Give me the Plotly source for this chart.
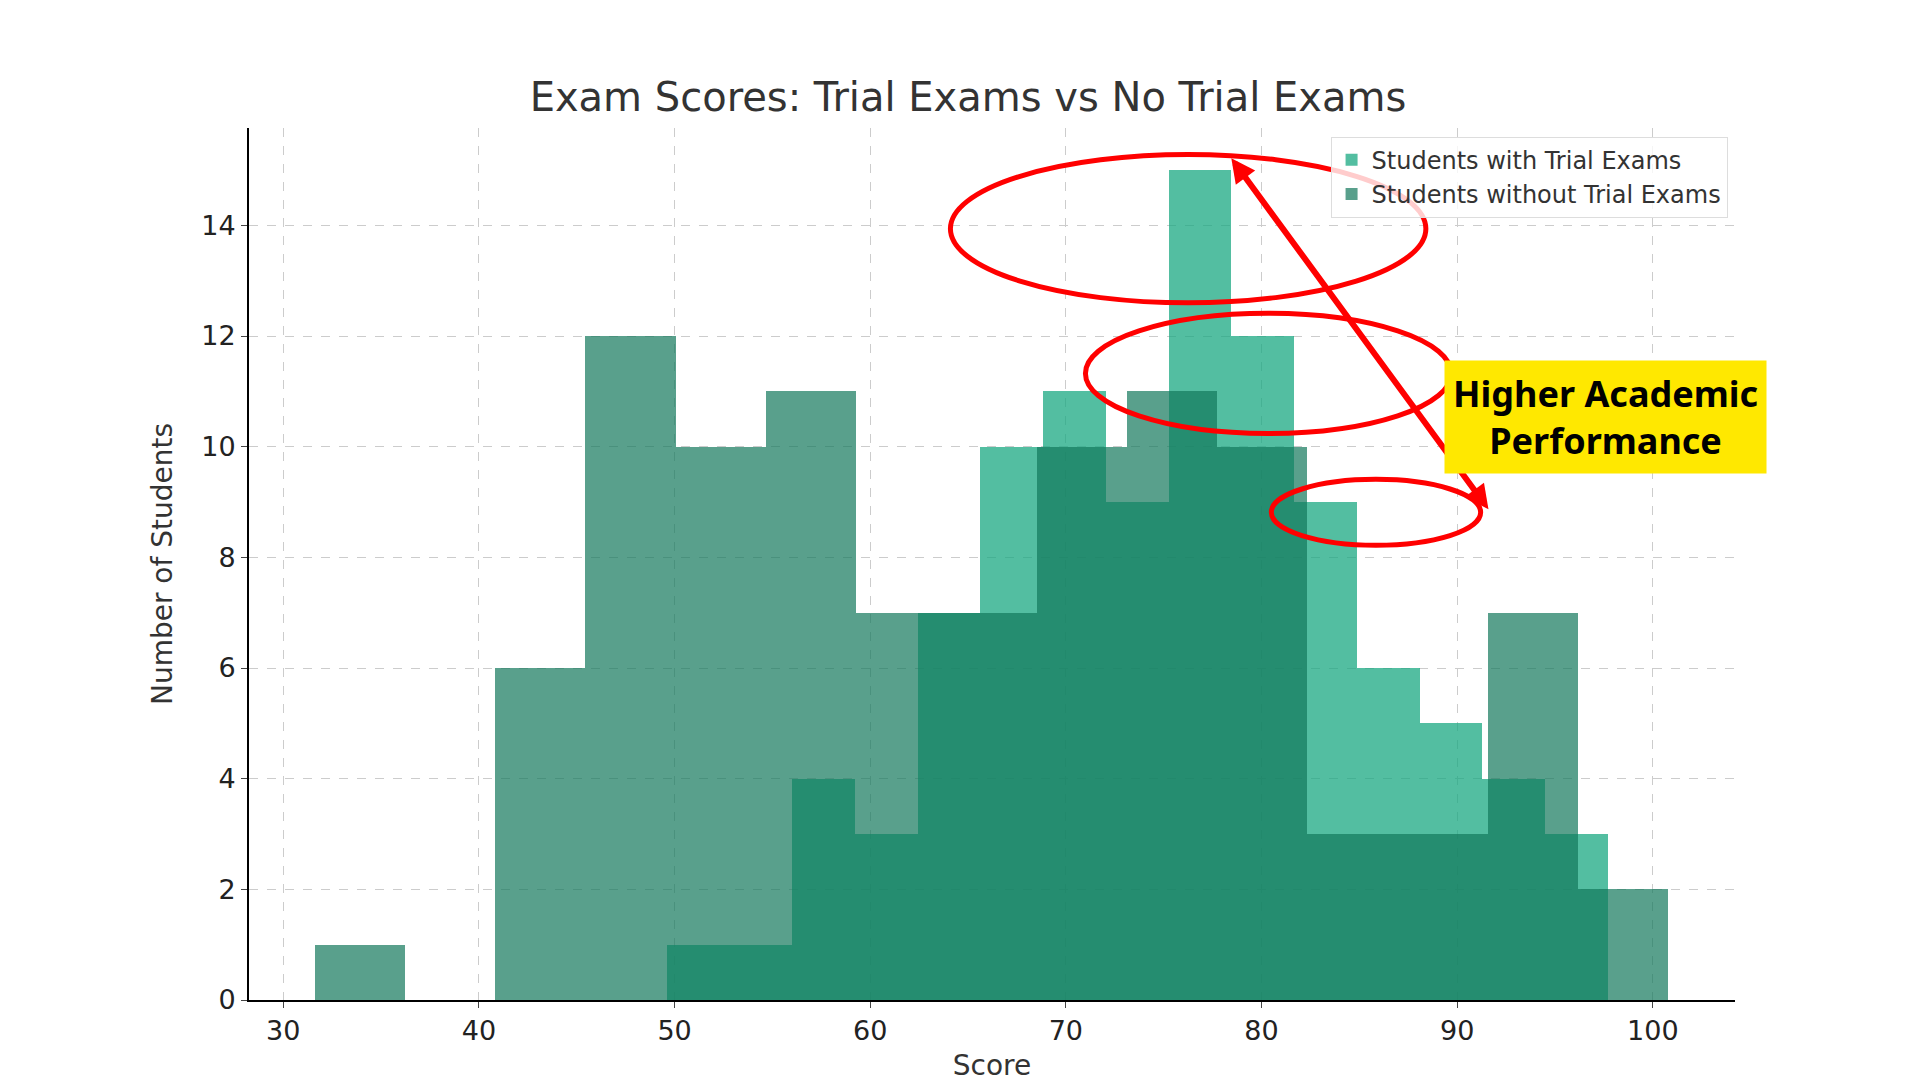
import numpy as np
import plotly.graph_objects as go

trial_counts = [1, 1, 4, 3, 7, 10, 11, 9, 15, 12, 9, 6, 5, 4, 3]
trial_range = [49.6, 97.7]
without_counts = [1, 0, 6, 12, 10, 11, 7, 7, 10, 11, 10, 3, 3, 7, 2]
without_range = [31.6, 100.8]
x_ticks = [30, 40, 50, 60, 70, 80, 90, 100]
y_ticks = [0, 2, 4, 6, 8, 10, 12, 14]

def bins(rng, n):
    e = np.linspace(rng[0], rng[1], n + 1)
    return (e[:-1] + e[1:]) / 2, e[1] - e[0]

fig = go.Figure()
xc, w = bins(trial_range, len(trial_counts))
fig.add_bar(x=xc, y=trial_counts, width=w, name="Students with Trial Exams",
            marker=dict(color="rgba(26,168,130,0.75)", line=dict(width=0)))
xc, w = bins(without_range, len(without_counts))
fig.add_bar(x=xc, y=without_counts, width=w, name="Students without Trial Exams",
            marker=dict(color="rgba(19,119,91,0.7)", line=dict(width=0)))

red = "#FF0000"
for x0, x1, y0, y1 in [(64.1, 88.4, 12.6, 15.28), (71.0, 89.7, 10.24, 12.41), (80.5, 91.2, 8.22, 9.41)]:
    fig.add_shape(type="circle", xref="x", yref="y", x0=x0, x1=x1, y0=y0, y1=y1,
                  line=dict(color=red, width=5))
fig.add_annotation(x=91.6, y=8.87, ax=78.4, ay=15.24, xref="x", yref="y", axref="x", ayref="y",
                   text="", showarrow=True, arrowhead=2, startarrowhead=2, arrowside="end+start",
                   arrowcolor=red, arrowwidth=6, arrowsize=0.8, startarrowsize=0.8)
fig.add_annotation(x=97.6, y=10.54, xref="x", yref="y", text="<b>Higher Academic<br>Performance</b>",
                   showarrow=False, bgcolor="#FFE800", borderpad=8,
                   font=dict(size=36, color="black", family="Noto Sans"))

grid = dict(showgrid=True, gridcolor="#cccccc", griddash="dash", gridwidth=1,
            showline=True, linecolor="black", linewidth=2, ticks="outside", ticklen=6,
            tickfont=dict(size=27, color="#222"), zeroline=False)
fig.update_layout(
    width=1920, height=1080, barmode="overlay", bargap=0,
    plot_bgcolor="white", paper_bgcolor="white",
    font=dict(family="DejaVu Sans", color="#333"),
    title=dict(text="Exam Scores: Trial Exams vs No Trial Exams", x=0.5, xanchor="center",
               y=0.918, yanchor="middle", font=dict(size=40, color="#333")),
    margin=dict(l=241, r=193, t=120, b=72),
    xaxis=dict(range=[28.25, 104.2], tickvals=x_ticks, mirror=False,
               title=dict(text="Score", font=dict(size=28), standoff=10), **grid),
    yaxis=dict(range=[0, 15.76], tickvals=y_ticks,
               title=dict(text="Number of Students", font=dict(size=28), standoff=20), **grid),
    legend=dict(x=0.995, y=0.99, xanchor="right", yanchor="top", bgcolor="rgba(255,255,255,0.8)",
                bordercolor="#ddd", borderwidth=1, font=dict(size=24, color="#333")),
    showlegend=True,
)
fig.write_html("out.html")
